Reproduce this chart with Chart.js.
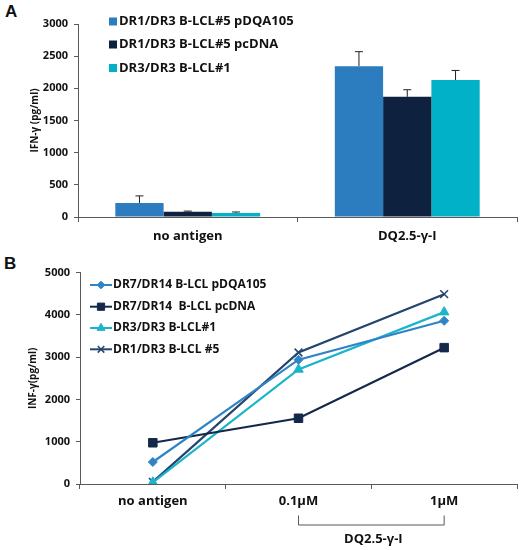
<!DOCTYPE html>
<html>
<head>
<meta charset="utf-8">
<script src="https://cdn.jsdelivr.net/npm/chart.js@4/dist/chart.umd.min.js"></script>
<style>
  body { margin: 0; background: #fff; width: 529px; height: 550px; position: relative; overflow: hidden; }
  .box { position: absolute; left: 0; width: 529px; }
  .panel { position: absolute; font: bold 17px "Liberation Sans", Arial, sans-serif; color: #111; }
</style>
</head>
<body>
<div class="panel" style="left:5px;top:2px">A</div>
<div class="panel" style="left:4px;top:254px">B</div>
<div class="box" style="top:0;height:250px"><canvas id="barChart"></canvas></div>
<div class="box" style="top:260px;height:290px"><canvas id="lineChart"></canvas></div>
<script>
// panel A data
const barCategories = ['no antigen', 'DQ2.5-γ-I'];
const barSeriesNames = ['DR1/DR3 B-LCL#5 pDQA105', 'DR1/DR3 B-LCL#5 pcDNA', 'DR3/DR3 B-LCL#1'];
const pdqaValues = [218, 2345];
const pdqaErrors = [110, 225];
const pcdnaValues = [80, 1868];
const pcdnaErrors = [12, 110];
const dr3Values = [62, 2128];
const dr3Errors = [16, 150];
const barTicks = [0, 500, 1000, 1500, 2000, 2500, 3000];

// panel B data
const lineCategories = ['no antigen', '0.1µM', '1µM'];
const lineSeriesNames = ['DR7/DR14 B-LCL pDQA105', 'DR7/DR14  B-LCL pcDNA', 'DR3/DR3 B-LCL#1', 'DR1/DR3 B-LCL #5'];
const dr7PdqaValues = [520, 2940, 3860];
const dr7PcdnaValues = [975, 1555, 3225];
const dr3LineValues = [40, 2710, 4065];
const dr1LineValues = [50, 3110, 4490];
const lineTicks = [0, 1000, 2000, 3000, 4000, 5000];

const FONT = '"Open Sans", Lato, sans-serif';
const AXIS = '#595959';
Chart.defaults.font.family = FONT;
Chart.defaults.color = '#111';

// one sided error bars with a cap
const errorBars = {
  id: 'errorBars',
  afterDatasetsDraw(chart) {
    const ctx = chart.ctx, y = chart.scales.y;
    ctx.save();
    ctx.strokeStyle = '#222';
    ctx.lineWidth = 1;
    chart.data.datasets.forEach((ds, i) => {
      if (!ds.errors) return;
      chart.getDatasetMeta(i).data.forEach((bar, j) => {
        const top = y.getPixelForValue(ds.data[j] + ds.errors[j]);
        ctx.beginPath();
        ctx.moveTo(bar.x, bar.y);
        ctx.lineTo(bar.x, top);
        ctx.moveTo(bar.x - 4, top);
        ctx.lineTo(bar.x + 4, top);
        ctx.stroke();
      });
    });
    ctx.restore();
  }
};

const barLegend = {
  id: 'barLegend',
  afterDraw(chart) {
    const ctx = chart.ctx;
    const rows = [21.5, 44.5, 68];
    ctx.save();
    ctx.font = 'bold 13px ' + FONT;
    ctx.textBaseline = 'middle';
    chart.data.datasets.forEach((ds, i) => {
      ctx.fillStyle = ds.backgroundColor;
      ctx.fillRect(109, rows[i] - 4, 8, 8);
      ctx.fillStyle = '#111';
      ctx.fillText(ds.label, 119, rows[i]);
    });
    ctx.restore();
  }
};

new Chart(document.getElementById('barChart'), {
  type: 'bar',
  data: {
    labels: barCategories,
    datasets: [
      { label: barSeriesNames[0], data: pdqaValues, errors: pdqaErrors, backgroundColor: '#2C7DC0' },
      { label: barSeriesNames[1], data: pcdnaValues, errors: pcdnaErrors, backgroundColor: '#0E223F' },
      { label: barSeriesNames[2], data: dr3Values, errors: dr3Errors, backgroundColor: '#00B1C7' }
    ]
  },
  options: {
    responsive: true,
    maintainAspectRatio: false,
    animation: false,
    layout: { padding: { top: 24, right: 12, left: 0, bottom: 0 } },
    datasets: { bar: { categoryPercentage: 0.66, barPercentage: 1.0 } },
    plugins: { legend: { display: false }, tooltip: { enabled: false } },
    scales: {
      x: {
        grid: { offset: true, drawOnChartArea: false, drawTicks: true, tickLength: 5, color: AXIS },
        border: { color: AXIS, width: 1 },
        ticks: { font: { size: 13, weight: 'bold' }, padding: 6, color: '#111' },
        afterFit(s) { s.height = 33; }
      },
      y: {
        min: 0, max: 3000,
        afterBuildTicks(s) { s.ticks = barTicks.map(v => ({ value: v })); },
        grid: { drawOnChartArea: false, drawTicks: true, tickLength: 4, color: AXIS },
        border: { color: AXIS, width: 1 },
        ticks: { font: { size: 11, weight: 'bold' }, padding: 6, color: '#111', callback: v => String(v) },
        title: { display: true, text: 'IFN-γ (pg/ml)', font: { size: 10, weight: 'bold' }, padding: { top: 29, bottom: 0 }, color: '#111' },
        afterFit(s) { s.width = 78; }
      }
    }
  },
  plugins: [errorBars, barLegend]
});

const lineLegend = {
  id: 'lineLegend',
  afterDraw(chart) {
    const ctx = chart.ctx;
    const rows = [25, 46.7, 68, 89.3];
    ctx.save();
    ctx.font = 'bold 12px ' + FONT;
    ctx.textBaseline = 'middle';
    chart.data.datasets.forEach((ds, i) => {
      ctx.strokeStyle = ds.borderColor;
      ctx.lineWidth = 2;
      ctx.beginPath();
      ctx.moveTo(90, rows[i]);
      ctx.lineTo(112, rows[i]);
      ctx.stroke();
      ctx.fillStyle = ds.borderColor;
      ctx.lineWidth = ds.pointBorderWidth || 1;
      Chart.helpers.drawPoint(ctx, { pointStyle: ds.pointStyle, radius: ds.pointRadius * 0.85, borderWidth: ds.pointBorderWidth || 1, rotation: 0 }, 101, rows[i]);
      ctx.fillStyle = '#111';
      ctx.fillText(ds.label, 113, rows[i]);
    });
    ctx.restore();
  }
};

const bracket = {
  id: 'bracket',
  afterDraw(chart) {
    const ctx = chart.ctx, x = chart.scales.x;
    const x1 = x.getPixelForValue(1), x2 = x.getPixelForValue(2);
    const yTop = 255.5, yBot = 265;
    ctx.save();
    ctx.strokeStyle = AXIS;
    ctx.lineWidth = 1;
    ctx.beginPath();
    ctx.moveTo(x1, yTop); ctx.lineTo(x1, yBot); ctx.lineTo(x2, yBot); ctx.lineTo(x2, yTop);
    ctx.stroke();
    ctx.fillStyle = '#111';
    ctx.font = 'bold 13px ' + FONT;
    ctx.textAlign = 'center';
    ctx.textBaseline = 'middle';
    ctx.fillText('DQ2.5-γ-I', (x1 + x2) / 2 + 2, 279);
    ctx.restore();
  }
};

new Chart(document.getElementById('lineChart'), {
  type: 'line',
  data: {
    labels: lineCategories,
    datasets: [
      { label: lineSeriesNames[0], data: dr7PdqaValues, borderColor: '#2F84C6', backgroundColor: '#2F84C6', pointStyle: 'rectRot', pointRadius: 4.5, pointBorderWidth: 1 },
      { label: lineSeriesNames[1], data: dr7PcdnaValues, borderColor: '#14294A', backgroundColor: '#14294A', pointStyle: 'rect', pointRadius: 6, pointBorderWidth: 1 },
      { label: lineSeriesNames[2], data: dr3LineValues, borderColor: '#1CB4CA', backgroundColor: '#1CB4CA', pointStyle: 'triangle', pointRadius: 5.5, pointBorderWidth: 1 },
      { label: lineSeriesNames[3], data: dr1LineValues, borderColor: '#23456E', backgroundColor: '#23456E', pointStyle: 'crossRot', pointRadius: 5.5, pointBorderWidth: 1.5 }
    ]
  },
  options: {
    responsive: true,
    maintainAspectRatio: false,
    animation: false,
    layout: { padding: { top: 12, right: 12, left: 0, bottom: 0 } },
    datasets: { line: { borderWidth: 2.2, tension: 0 } },
    plugins: { legend: { display: false }, tooltip: { enabled: false } },
    scales: {
      x: {
        offset: true,
        grid: { offset: true, drawOnChartArea: false, drawTicks: true, tickLength: 5, color: AXIS },
        border: { color: AXIS, width: 1 },
        ticks: { font: { size: 13, weight: 'bold' }, padding: 4, color: '#111' },
        afterFit(s) { s.height = 66; }
      },
      y: {
        min: 0, max: 5000,
        afterBuildTicks(s) { s.ticks = lineTicks.map(v => ({ value: v })); },
        grid: { drawOnChartArea: false, drawTicks: true, tickLength: 4, color: AXIS },
        border: { color: AXIS, width: 1 },
        ticks: { font: { size: 11, weight: 'bold' }, padding: 6, color: '#111', callback: v => String(v) },
        title: { display: true, text: 'INF-γ(pg/ml)', font: { size: 10, weight: 'bold' }, padding: { top: 27, bottom: 0 }, color: '#111' },
        afterFit(s) { s.width = 80; }
      }
    }
  },
  plugins: [lineLegend, bracket]
});
</script>
</body>
</html>
